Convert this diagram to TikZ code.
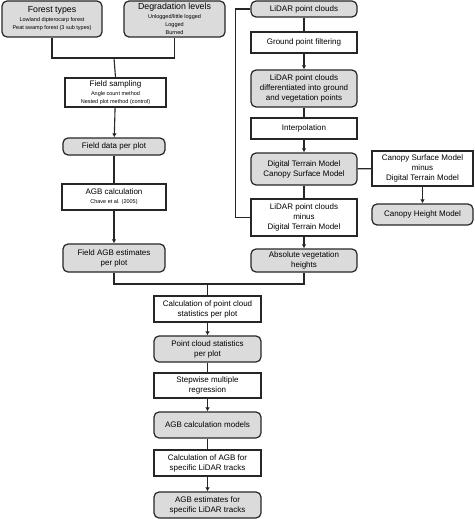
\documentclass[tikz,border=0pt]{standalone}
\usepackage{fontspec}
\setmainfont{Liberation Sans}
\usepackage{tikz}
\usetikzlibrary{arrows.meta}
\newcommand{\boxtxt}{\fontsize{8}{10}\selectfont}
\newcommand{\headtxt}{\fontsize{8.8}{10}\selectfont}
\newcommand{\subtxt}{\fontsize{5.5}{6.6}\selectfont}
\tikzstyle{result} = [rectangle, rounded corners=5pt, draw=black!85, fill=gray!28, line width=1.2pt, inner sep=1pt, text centered, align=center, font=\boxtxt]
\tikzstyle{process} = [rectangle, draw=black!85, fill=white, line width=1.2pt, inner sep=1pt, text centered, align=center, font=\boxtxt]
\tikzstyle{line} = [draw=black!85, line width=1.1pt]
\tikzstyle{arrow} = [line, -{Latex[length=4pt,width=4.5pt]}]

\begin{document}
\begin{tikzpicture}[x=1pt, y=-1pt]
 \useasboundingbox (0,0) rectangle (474,519);

 % field branch
 \node (ftype) [result, minimum width=100pt, minimum height=36pt] at (52,19) {\headtxt Forest types\\[-1pt] \subtxt Lowland dipterocarp forest\\[-2pt] \subtxt Peat swamp forest (3 sub types)};
 \node (dlevel) [result, minimum width=101pt, minimum height=36pt] at (174.5,19) {\headtxt Degradation levels\\[-1pt] \subtxt Unlogged/little logged\\[-2pt] \subtxt Logged\\[-2pt] \subtxt Burned};
 \node (fsamp) [process, minimum width=101pt, minimum height=29pt] at (115.5,92.5) {Field sampling\\[-1pt] \subtxt Angle count method\\[-2pt] \subtxt Nested plot method (control)};
 \node (fdata) [result, minimum width=102pt, minimum height=17pt] at (114,146.5) {Field data per plot};
 \node (agbc) [process, minimum width=104pt, minimum height=26pt] at (114,197) {AGB calculation\\[-1pt] \subtxt Chave et al. (2005)};
 \node (fagb) [result, minimum width=102pt, minimum height=28pt] at (114,258) {Field AGB estimates\\ per plot};

 % lidar branch
 \node (lidar) [result, minimum width=106pt, minimum height=16pt] at (304,9) {LiDAR point clouds};
 \node (gfilt) [process, minimum width=106pt, minimum height=21pt] at (304,42.5) {Ground point filtering};
 \node (ldiff) [result, minimum width=106pt, minimum height=37pt] at (304,88.5) {LiDAR point clouds\\ differentiated into ground\\ and vegetation points};
 \node (interp) [process, minimum width=106pt, minimum height=21pt] at (304,128.5) {Interpolation};
 \node (dtm) [result, minimum width=106pt, minimum height=32pt] at (304,169) {Digital Terrain Model\\ Canopy Surface Model};
 \node (csmdtm) [process, minimum width=101pt, minimum height=35pt] at (422.5,168.5) {Canopy Surface Model\\ minus\\ Digital Terrain Model};
 \node (chm) [result, minimum width=101pt, minimum height=21pt] at (422.5,214.5) {Canopy Height Model};
 \node (lminus) [process, minimum width=106pt, minimum height=37pt] at (304,217.5) {LiDAR point clouds\\ minus\\ Digital Terrain Model};
 \node (avh) [result, minimum width=106pt, minimum height=23pt] at (304,260.5) {Absolute vegetation\\ heights};

 % model branch
 \node (cstat) [process, minimum width=107pt, minimum height=26pt] at (207.5,309) {Calculation of point cloud\\ statistics per plot};
 \node (pstat) [result, minimum width=107pt, minimum height=26pt] at (207.5,349) {Point cloud statistics\\ per plot};
 \node (swreg) [process, minimum width=107pt, minimum height=25pt] at (207.5,385.5) {Stepwise multiple\\ regression};
 \node (agbm) [result, minimum width=107pt, minimum height=26pt] at (207.5,425) {AGB calculation models};
 \node (cagb) [process, minimum width=107pt, minimum height=26pt] at (207.5,463) {Calculation of AGB for\\ specific LiDAR tracks};
 \node (agbe) [result, minimum width=107pt, minimum height=26pt] at (207.5,505) {AGB estimates for\\ specific LiDAR tracks};

 \coordinate (joinA) at (114,58);
 \coordinate (joinB) at (207.5,284);

 \draw[line] (ftype.south) |- (joinA) -| (dlevel.south);
 \draw[line] (joinA) -- (fsamp.north);
 \draw[arrow] (fsamp) -- (fdata);
 \draw[line] (fdata) -- (agbc);
 \draw[arrow] (agbc) -- (fagb);

 \draw[line] (lidar) -- (gfilt);
 \draw[arrow] (gfilt) -- (ldiff);
 \draw[line] (ldiff) -- (interp);
 \draw[arrow] (interp) -- (dtm);
 \draw[line] (dtm) -- (csmdtm);
 \draw[arrow] (csmdtm) -- (chm);
 \draw[line] (dtm) -- (lminus);
 \draw[arrow] (lminus) -- (avh);
 \draw[line] (lidar.west) -- ++(-15,0) |- (lminus.west);

 \draw[line] (fagb.south) |- (joinB) -| (avh.south);
 \draw[line] (joinB) -- (cstat.north);
 \draw[arrow] (cstat) -- (pstat);
 \draw[line] (pstat) -- (swreg);
 \draw[arrow] (swreg) -- (agbm);
 \draw[line] (agbm) -- (cagb);
 \draw[arrow] (cagb) -- (agbe);
\end{tikzpicture}
\end{document}
